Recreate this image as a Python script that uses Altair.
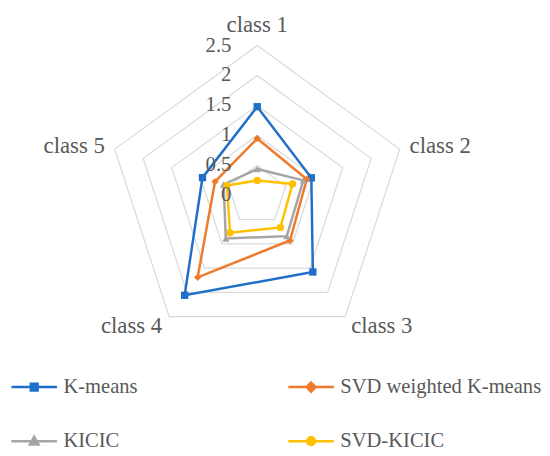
import altair as alt
import pandas as pd

# ---------------- data ----------------
classes = ["class 1", "class 2", "class 3", "class 4", "class 5"]
series_names = ["K-means", "SVD weighted K-means", "KICIC", "SVD-KICIC"]
kmeans = [1.48, 0.95, 1.58, 2.06, 0.96]
svd_weighted_kmeans = [0.95, 0.87, 0.93, 1.69, 0.74]
kicic = [0.44, 0.81, 0.84, 0.89, 0.59]
svd_kicic = [0.25, 0.62, 0.66, 0.77, 0.53]
ring_levels = [0.5, 1.0, 1.5, 2.0, 2.5]
tick_values = [0, 0.5, 1, 1.5, 2, 2.5]
tick_labels = ["0", "0.5", "1", "1.5", "2", "2.5"]

# ---------------- style ----------------
colors = ["#1f6fca", "#f07a2b", "#a5a5a5", "#ffc000"]
marker_shapes = ["square", "diamond", "triangle-up", "circle"]
legend_shapes = [
    "M-1,0H1M-0.15,-0.15H0.15V0.15H-0.15Z",
    "M-1,0H1M0,-0.2L0.2,0L0,0.2L-0.2,0Z",
    "M-1,0H1M0,-0.19L0.19,0.15L-0.19,0.15Z",
    "M-1,0H1M0.17,0A0.17,0.17,0,1,1,-0.17,0A0.17,0.17,0,1,1,0.17,0Z",
]
FONT = "Liberation Serif, Times New Roman, serif"
TXT = "#595959"
GRID = "#d9d9d9"
PX = 60.6           # pixels per data unit
W, H = 504, 374     # plot area
N = len(classes)

# ---------------- tables ----------------
all_values = [kmeans, svd_weighted_kmeans, kicic, svd_kicic]
rows = []
for s, vals in zip(series_names, all_values):
    for i in range(N + 1):
        rows.append({"series": s, "idx": i, "cls": classes[i % N], "value": vals[i % N]})
series_df = pd.DataFrame(rows)

ring_df = pd.DataFrame([{"level": lv, "idx": i, "value": lv}
                        for lv in ring_levels for i in range(N + 1)])
tick_df = pd.DataFrame({"value": tick_values, "label": tick_labels})
cls_df = pd.DataFrame({"cls": classes, "idx": list(range(N)),
                       "value": [max(ring_levels)] * N})

xs = alt.Scale(domain=[-W / 2 / PX, W / 2 / PX], nice=False, zero=False)
ys = alt.Scale(domain=[-H / 2 / PX, H / 2 / PX], nice=False, zero=False)


def polar(ch):
    return ch.transform_calculate(
        ang="PI/2 - 2*PI*datum.idx/" + str(N)
    ).transform_calculate(
        px="datum.value*cos(datum.ang)", py="datum.value*sin(datum.ang)"
    )


X = alt.X("px:Q", scale=xs, axis=None)
Y = alt.Y("py:Q", scale=ys, axis=None)

rings = polar(alt.Chart(ring_df)).mark_line(color=GRID, strokeWidth=1.2).encode(
    x=X, y=Y, detail="level:N", order="idx:Q")

lines = polar(alt.Chart(series_df)).mark_line(strokeWidth=2.5).encode(
    x=X, y=Y,
    color=alt.Color("series:N", sort=series_names,
                    scale=alt.Scale(domain=series_names, range=colors), legend=None),
    order="idx:Q")

points = polar(alt.Chart(series_df[series_df.idx < N])).mark_point(
    filled=True, size=55, opacity=1).encode(
    x=X, y=Y,
    color=alt.Color("series:N", sort=series_names,
                    scale=alt.Scale(domain=series_names, range=colors), legend=None),
    shape=alt.Shape("series:N", sort=series_names,
                    scale=alt.Scale(domain=series_names, range=marker_shapes), legend=None))


def make_legend():
    return alt.Legend(title=None, orient="none", direction="horizontal",
                      legendX=2, legendY=356,
                      columns=2, columnPadding=146, rowPadding=20,
                      symbolSize=2116, symbolStrokeWidth=2.5, symbolOpacity=1,
                      labelFont=FONT, labelFontSize=20.8, labelColor=TXT, labelLimit=300,
                      labelOffset=5, padding=0)


legend_df = pd.DataFrame({"series": series_names, "idx": [0] * 4, "value": [0] * 4})
leg = polar(alt.Chart(legend_df)).mark_point(filled=True, opacity=0, size=0).encode(
    x=X, y=Y,
    fill=alt.Fill("series:N", sort=series_names,
                  scale=alt.Scale(domain=series_names, range=colors),
                  legend=make_legend()),
    stroke=alt.Stroke("series:N", sort=series_names,
                      scale=alt.Scale(domain=series_names, range=colors),
                      legend=make_legend()),
    shape=alt.Shape("series:N", sort=series_names,
                    scale=alt.Scale(domain=series_names, range=legend_shapes),
                    legend=make_legend()))

ticks = alt.Chart(tick_df).mark_text(
    align="right", baseline="middle", dx=-26, font=FONT, fontSize=21, color=TXT).encode(
    x=alt.X("zero:Q", scale=xs, axis=None), y=alt.Y("value:Q", scale=ys, axis=None),
    text="label:N").transform_calculate(zero="0")

label_style = {
    "class 1": ("center", 0, -21),
    "class 2": ("left", 10, -3),
    "class 3": ("left", 6, 10),
    "class 4": ("right", -7, 10),
    "class 5": ("right", -10, -3),
}
cls_layers = []
for c in classes:
    al, dx, dy = label_style[c]
    cls_layers.append(
        polar(alt.Chart(cls_df).transform_filter(alt.datum.cls == c)).mark_text(
            align=al, baseline="middle", dx=dx, dy=dy, font=FONT, fontSize=23, color=TXT
        ).encode(x=X, y=Y, text="cls:N"))

chart = alt.layer(rings, lines, points, leg, ticks, *cls_layers).resolve_scale(
    color="independent", shape="independent", fill="independent", stroke="independent"
).properties(width=W, height=H, padding=0).configure_view(stroke=None)

chart.save("out.html", embed_options={"renderer": "svg", "actions": False})
